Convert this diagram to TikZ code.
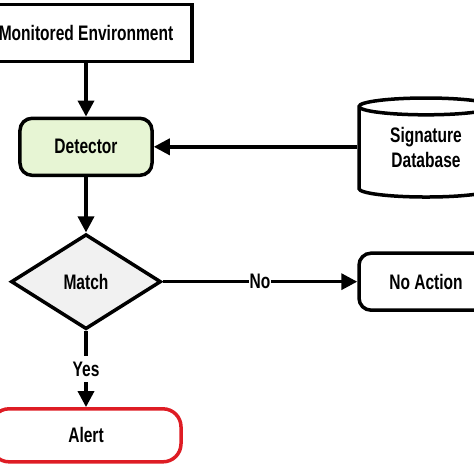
\documentclass[tikz,border=0pt]{standalone}
\usepackage{fontspec}
\setmainfont[FakeStretch=0.74]{Liberation Sans}
\usepackage{color}
\usepackage{tikz}
\usetikzlibrary{positioning, shapes.geometric, arrows.meta}
\definecolor{detgreen}{RGB}{231,245,212}
\definecolor{matchgray}{RGB}{241,241,241}
\definecolor{alertred}{RGB}{222,28,36}

\begin{document}
\begin{tikzpicture}[
    txt/.style={font=\fontsize{21}{25}\selectfont\bfseries},
    box/.style={txt, draw, line width=3.5pt, minimum height=57pt},
    arr/.style={-{Triangle[length=16pt,width=16pt]}, line width=3.5pt},
    lbl/.style={txt, fill=white}
  ]
      \useasboundingbox (-86pt,33pt) rectangle (388pt,-441pt);

      \node[box, fill=white, minimum width=212pt] (env) {Monitored Environment};
      \node[box, fill=detgreen, rounded corners=12pt, minimum width=132pt, below of=env, yshift=-30mm] (det) {Detector};
      \node[txt, diamond, draw, line width=3.5pt, fill=matchgray, inner sep=0pt, minimum width=150pt, minimum height=95pt, below of=det, yshift=-37.4mm] (match) {Match};
      \node[box, draw=alertred, rounded corners=18pt, minimum width=190pt, minimum height=53pt, below of=match, yshift=-44mm] (alert) {Alert};

      \node[cylinder, shape border rotate=90, draw, line width=3.5pt, aspect=0.21, inner xsep=40pt, minimum width=134pt, minimum height=99pt, right of=det, xshift=109.5mm, yshift=-0.7pt, anchor=shape center] (sig) {};
      \node[txt, align=center] (sigtxt) at (sig.shape center) {Signature\\Database};
      \node[box, rounded corners=12pt, minimum width=134pt, right of=match, xshift=109.5mm] (noact) {No Action};


      \draw[arr] (env)--(det);
      \draw[arr] (det)--(match);
      \draw[arr] (det -| sig.west)--(det);

      \draw[arr] (match)-- node[lbl, inner sep=1pt] {No} (noact);
      \draw[arr] (match)-- node[lbl, inner xsep=2pt, inner ysep=6pt] {Yes} (alert);
    \end{tikzpicture}
\end{document}
